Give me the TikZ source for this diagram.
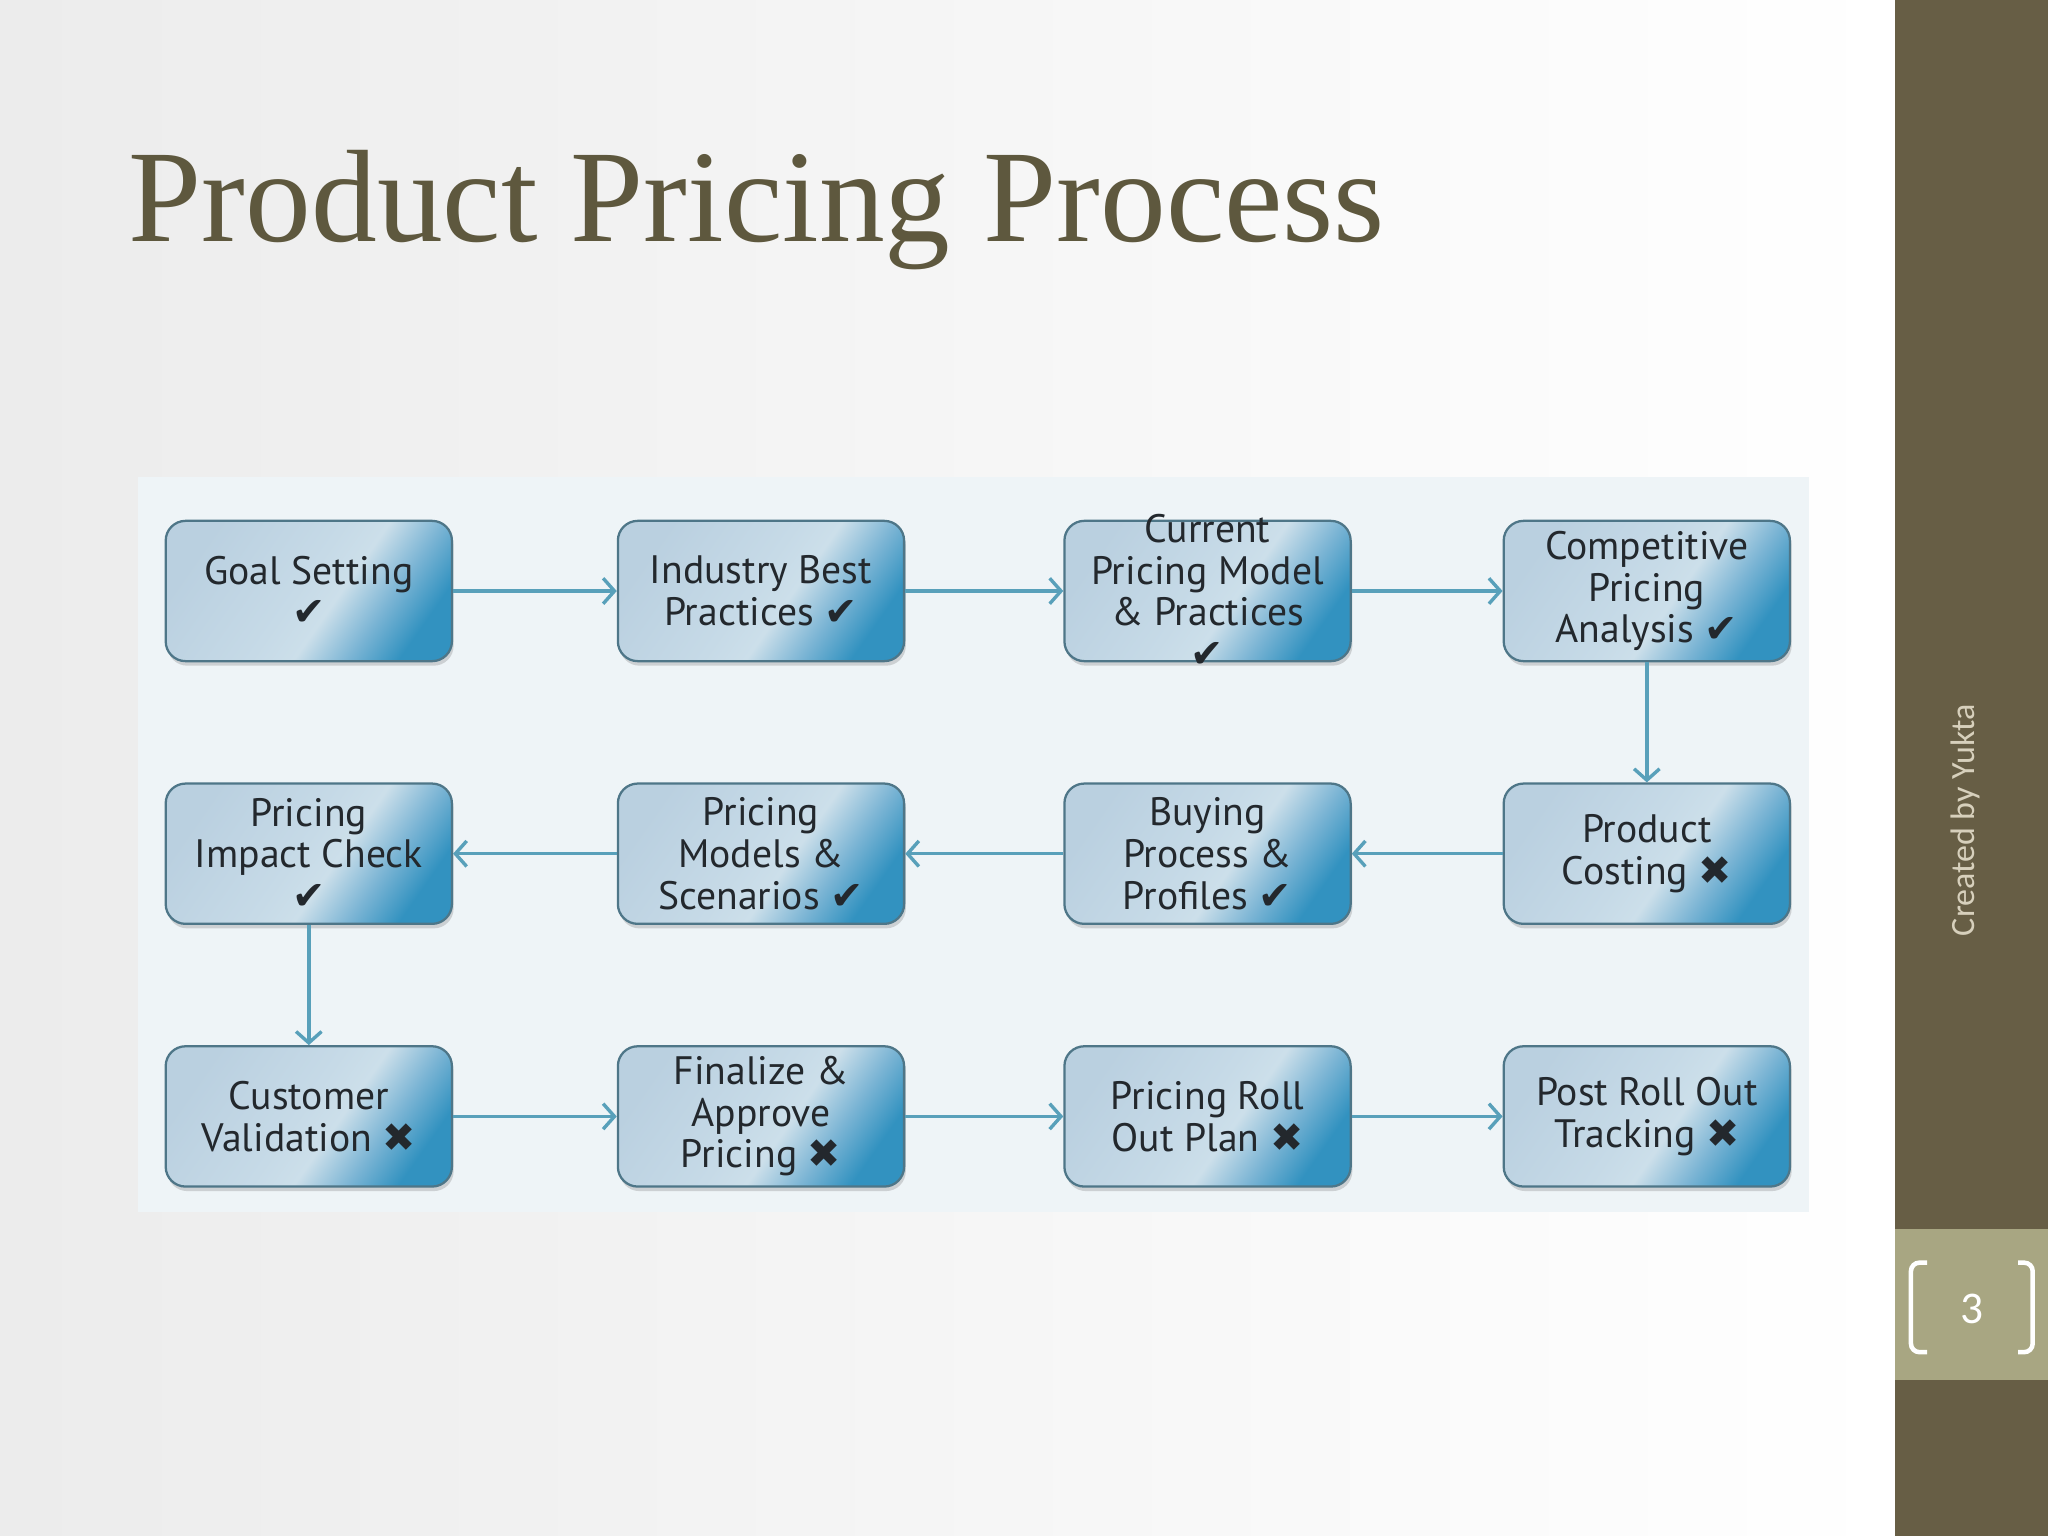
\documentclass[tikz,border=0pt]{standalone}
\usepackage{fontspec}
\setmainfont{Liberation Serif}
\newfontfamily\boxfont{PT Sans}
\newfontfamily\symfont{DejaVu Sans}
\newfontfamily\notefont{Carlito}
\usetikzlibrary{positioning,arrows.meta,shadows}

\definecolor{slideolive}{RGB}{103,94,69}
\definecolor{pagebox}{RGB}{168,166,130}
\definecolor{titlecol}{RGB}{94,88,62}
\definecolor{creditcol}{RGB}{215,208,188}
\definecolor{panelcol}{RGB}{238,244,247}
\definecolor{boxA}{RGB}{186,208,224}
\definecolor{boxB}{RGB}{198,218,231}
\definecolor{boxHi}{RGB}{204,223,234}
\definecolor{boxC}{RGB}{122,180,212}
\definecolor{boxD}{RGB}{50,146,192}
\definecolor{boxline}{RGB}{78,118,136}
\definecolor{flowcol}{RGB}{88,160,186}
\definecolor{inkcol}{RGB}{35,40,45}

\pgfdeclarehorizontalshading{pboxshade}{100bp}{color(0bp)=(boxA); color(25bp)=(boxA); color(48bp)=(boxB); color(56bp)=(boxHi); color(66bp)=(boxC); color(75bp)=(boxD); color(100bp)=(boxD)}

\newcommand{\donemark}{{\symfont ✔}}
\newcommand{\todomark}{{\symfont ✖}}

\tikzset{
  pbox/.style={draw=boxline, line width=0.8pt, rounded corners=7pt, shade, shading=pboxshade, shading angle=-35,
    minimum width=3.55cm, minimum height=1.74cm, align=center,
    font=\boxfont\fontsize{14}{14.7}\selectfont, text=inkcol,
    drop shadow={shadow xshift=0.6pt, shadow yshift=-1.6pt, opacity=0.3}},
  flow/.style={draw=flowcol, line width=1.2pt, -{Straight Barb[length=4pt,width=9pt]}},
}

\begin{document}
\begin{tikzpicture}[node distance=1.49cm and 1.98cm]
	\useasboundingbox (0,0) rectangle (25.4,19.05);
	\shade[left color=gray!15, middle color=white, right color=white] (0,0) rectangle (23.5,19.05);
	\fill[slideolive] (23.5,0) rectangle (25.4,19.05);
	\fill[pagebox] (23.5,1.94) rectangle (25.4,3.81);
	\draw[white, line width=1.6pt, rounded corners=3pt] (23.90,3.39) -- (23.70,3.39) -- (23.70,2.28) -- (23.90,2.28);
	\draw[white, line width=1.6pt, rounded corners=3pt] (25.03,3.39) -- (25.21,3.39) -- (25.21,2.28) -- (25.03,2.28);
	\node[text=white, font=\notefont\fontsize{16}{18}\selectfont] (pagenum) at (24.46,2.82) {3};
	\node[rotate=90, text=creditcol, font=\notefont\fontsize{12}{14}\selectfont] (credit) at (24.38,8.88) {Created by Yukta};
	\node[anchor=base west, inner sep=0pt, text=titlecol, font=\fontsize{46.4}{50}\selectfont] (title) at (1.59,16.05) {Product Pricing Process};
	\fill[panelcol] (1.71,4.02) rectangle (22.44,13.13);
	% first row
	\node[pbox] (goal) at (3.83,11.72) {Goal Setting\\ \donemark};
	\node[pbox, right=2.03cm of goal] (industry) {Industry Best\\ Practices \donemark};
	\node[pbox, right=1.96cm of industry, inner ysep=-5pt] (current) {Current\\ Pricing Model\\ \& Practices\\ \donemark};
	\node[pbox, right=1.87cm of current] (competitive) {Competitive\\ Pricing\\ Analysis \donemark};
	% second row, right to left
	\node[pbox, below=of competitive] (costing) {Product\\ Costing \todomark};
	\node[pbox, left=1.87cm of costing] (buying) {Buying\\ Process \&\\ Profiles \donemark};
	\node[pbox, left=1.96cm of buying] (models) {Pricing\\ Models \&\\ Scenarios \donemark};
	\node[pbox, left=2.03cm of models] (impact) {Pricing\\ Impact Check\\ \donemark};
	% third row
	\node[pbox, below=of impact] (validation) {Customer\\ Validation \todomark};
	\node[pbox, right=2.03cm of validation] (finalize) {Finalize \&\\ Approve\\ Pricing \todomark};
	\node[pbox, right=1.96cm of finalize] (rollout) {Pricing Roll\\ Out Plan \todomark};
	\node[pbox, right=1.87cm of rollout] (tracking) {Post Roll Out\\ Tracking \todomark};
	\foreach \from/\to in {goal/industry,industry/current,current/competitive,competitive/costing,costing/buying,buying/models,models/impact,impact/validation,validation/finalize,finalize/rollout,rollout/tracking}{
		\draw[flow] (\from) -- (\to);
	};
\end{tikzpicture}
\end{document}
